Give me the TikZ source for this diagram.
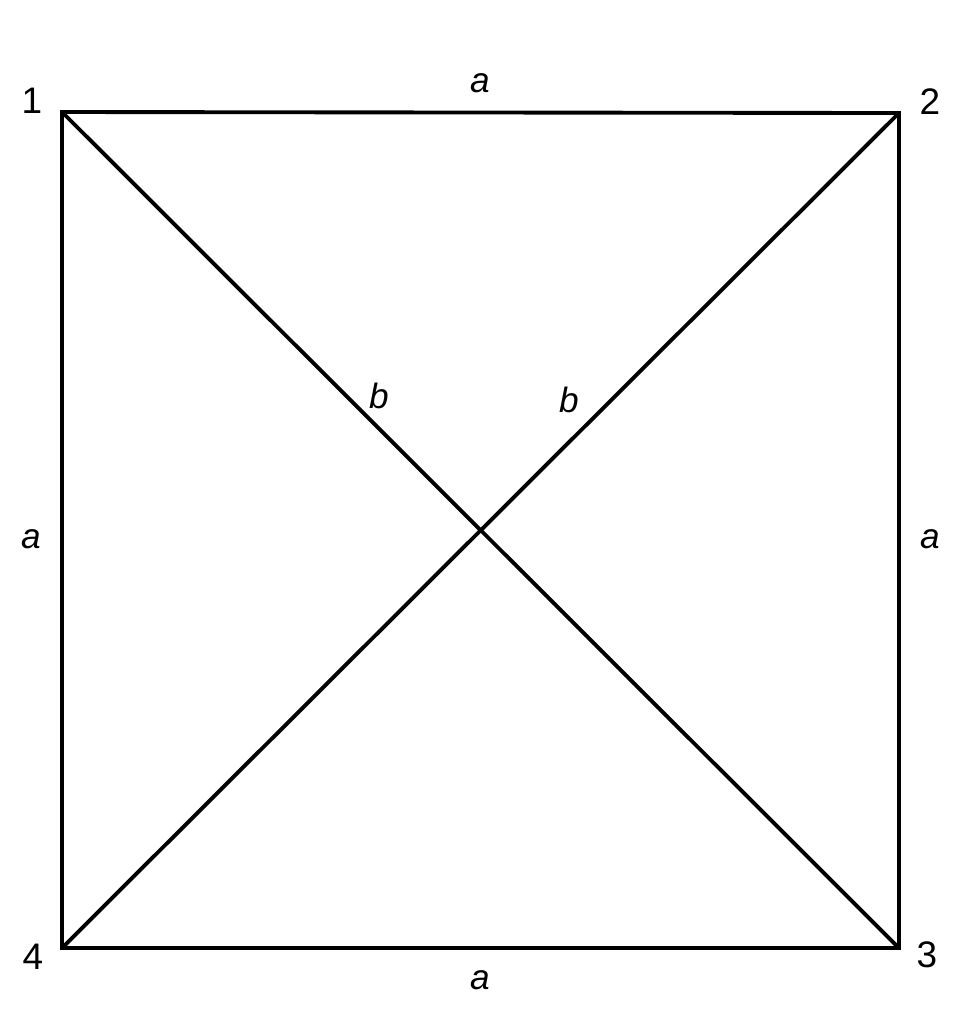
\documentclass[tikz,border=0pt]{standalone}
\usepackage{fontspec}
\setmainfont{Liberation Sans}
\usepackage{tikz}
\usetikzlibrary{positioning}

\tikzset{
    edge/.style={black, line width=1.1pt, line cap=round, line join=miter},
    corner/.style={font=\fontsize{10.5pt}{12pt}\selectfont},
    len/.style={font=\fontsize{10pt}{12pt}\selectfont\itshape}
}

\begin{document}
\begin{tikzpicture}[x=0.01cm, y=-0.01cm]
    \useasboundingbox (0,0) rectangle (966,1029);

    \coordinate (c1) at (62,112);
    \coordinate (c2) at (899,113);
    \coordinate (c3) at (899,948);
    \coordinate (c4) at (62,948);

    \draw[edge] (c1) -- (c2) -- (c3) -- (c4) -- cycle;
    \draw[edge] (c1) -- (c3);
    \draw[edge] (c2) -- (c4);

    \node[corner] (n1) at (32,101) {1};
    \node[corner] (n2) at (930,102) {2};
    \node[corner] (n3) at (927,955) {3};
    \node[corner] (n4) at (33,957) {4};

    \node[len] (atop) at (480,83) {a};
    \node[len] (abot) at (480,980) {a};
    \node[len] (alft) at (31,539) {a};
    \node[len] (argt) at (930,539) {a};
    \node[len] (bl) at (379,396) {b};
    \node[len] (br) at (569,400) {b};
\end{tikzpicture}
\end{document}
